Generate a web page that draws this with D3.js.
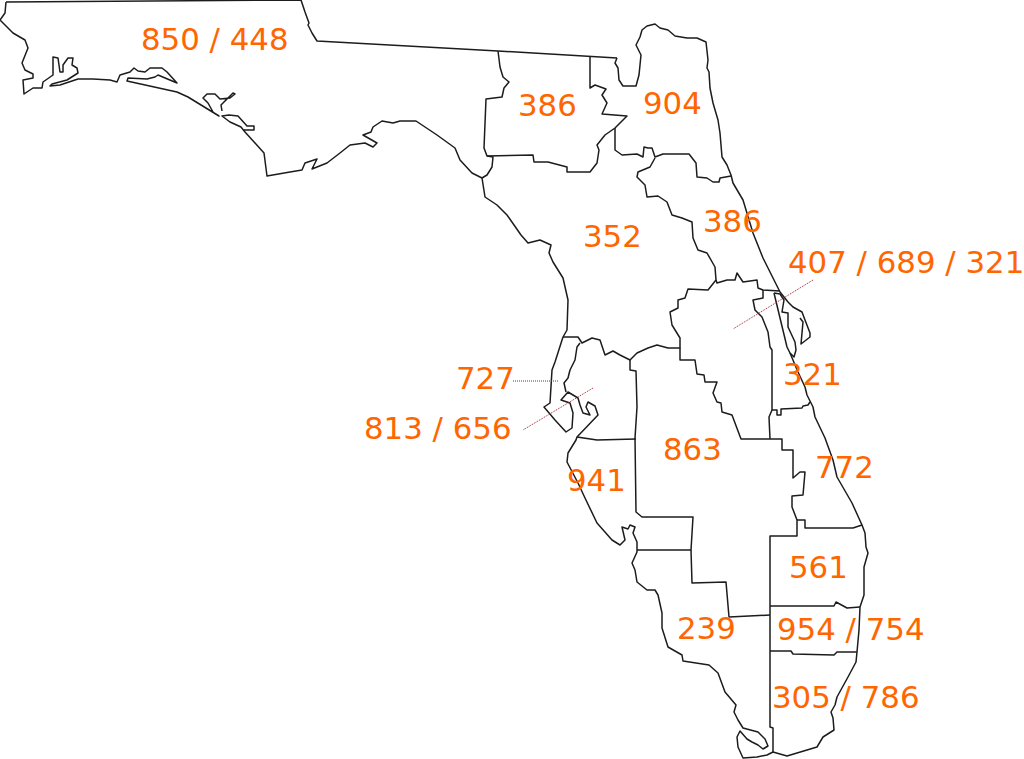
<!DOCTYPE html>
<html>
<head>
<meta charset="utf-8">
<script src="https://cdn.jsdelivr.net/npm/d3@7"></script>
<style>
html, body { margin: 0; padding: 0; background: #fff; }
svg { display: block; }
.border { fill: none; stroke: #1c1c1c; stroke-width: 1.5; stroke-linejoin: round; }
.leader { stroke: #a01c2c; stroke-width: 1; stroke-dasharray: 1 1; }
.code { fill: #ff6600; font-family: "DejaVu Sans"; font-size: 30.8px; }
</style>
</head>
<body>
<div id="map"></div>
<script>
// Area code labels
var codes = ["850 / 448", "386", "904", "386", "352", "407 / 689 / 321", "321", "727", "813 / 656", "863", "941", "772", "561", "239", "954 / 754", "305 / 786"];
var codeX = [141, 518, 643, 703, 583, 788, 783, 456, 364, 663, 567, 815, 789, 677, 777, 772];
var codeY = [50, 116, 114, 232, 247, 273, 385, 389, 439, 460, 491, 478, 578, 639, 640, 708];

// Dotted lines from a label to its small area
var leaders = [
    [[813, 280], [733, 329]],
    [[513, 381], [558, 381]],
    [[593, 388], [523, 430]]
];

// State outline in map units
var northLine = [[6, 2], [301, 0], [305, 12], [309, 23], [308, 25], [312, 33], [317, 41], [498, 51], [617, 58]];
var eastCoast = [[617, 58], [615, 63], [618, 68], [619, 80], [623, 86], [636, 86], [639, 75], [641, 55], [636, 45], [640, 37], [642, 30], [647, 26], [655, 24], [660, 28], [668, 30], [675, 36], [687, 38], [697, 38], [706, 42], [708, 60], [707, 68], [709, 72], [710, 88], [713, 103], [718, 120], [720, 133], [722, 157], [727, 165], [731, 175], [733, 183], [743, 200], [753, 233], [763, 258], [780, 292], [788, 302], [793, 307], [802, 312], [805, 320], [810, 333], [810, 337], [801, 344], [803, 322], [800, 318]];
var eastCoast2 = [[790, 353], [798, 372], [805, 387], [807, 395], [813, 407], [815, 417], [825, 438], [833, 460], [837, 477], [852, 503], [862, 525], [865, 533], [866, 547], [868, 553], [864, 567], [864, 595], [860, 607], [859, 630], [857, 652], [856, 662], [848, 677], [837, 697], [835, 705], [831, 712], [833, 718], [834, 730], [823, 737], [817, 747], [807, 750], [787, 756], [773, 752], [767, 755], [757, 757], [743, 758], [738, 747], [737, 737], [740, 731], [747, 739], [752, 742], [758, 745], [763, 749], [768, 746], [765, 739], [758, 732], [743, 728], [738, 720], [734, 712], [736, 705], [725, 692], [718, 673], [709, 665], [683, 661], [682, 655], [668, 647], [662, 628], [662, 613], [658, 595], [655, 590], [647, 590], [637, 582], [635, 570], [632, 563], [637, 552], [637, 542], [633, 533], [635, 527], [630, 525], [628, 529], [622, 527], [625, 540], [620, 545], [612, 540], [597, 523], [585, 498], [578, 483], [567, 462], [568, 453], [576, 440], [577, 437], [598, 415], [595, 406], [588, 402], [586, 407], [590, 415], [583, 413], [580, 405], [578, 398], [568, 392], [561, 400], [570, 403], [573, 413], [572, 428], [566, 432], [555, 420], [544, 407], [550, 403], [552, 370], [555, 362], [563, 337], [567, 330], [568, 300], [563, 278], [553, 262], [549, 253], [551, 245], [540, 240], [528, 243], [521, 235], [507, 215], [497, 205], [485, 197], [482, 178], [472, 173], [460, 160], [455, 148], [437, 135], [416, 121], [400, 121], [393, 123], [382, 121], [373, 127], [371, 132], [363, 135], [377, 143], [373, 147], [365, 143], [350, 145], [340, 153], [327, 163], [312, 169], [317, 159], [305, 163], [302, 170], [290, 172], [267, 176], [264, 153], [245, 132], [241, 127], [230, 122], [222, 116], [229, 115], [238, 116], [247, 126], [254, 126], [254, 130], [244, 130]];
var panhandleBay = [[222, 111], [221, 105], [233, 93], [235, 94], [230, 98], [220, 99], [215, 94], [207, 94], [203, 98], [208, 103], [213, 112], [219, 116], [188, 97], [177, 92], [127, 81], [128, 78], [147, 79], [155, 77], [158, 75], [177, 83], [167, 72], [162, 68], [150, 68], [145, 72], [138, 71], [134, 68], [130, 72], [120, 75], [117, 82], [110, 80], [93, 79], [78, 79], [60, 85], [50, 86], [52, 84], [67, 80], [78, 73], [77, 68], [72, 65], [73, 58], [68, 58], [63, 65], [63, 72], [60, 72], [58, 58], [53, 57], [53, 75], [43, 82], [42, 88], [33, 88], [24, 94], [23, 80], [33, 78], [33, 74], [25, 70], [22, 63], [28, 48], [25, 40], [13, 33], [0, 20], [5, 13], [6, 2]];
var merrittIsland = [[774, 293], [787, 347], [790, 353], [794, 357], [796, 350], [795, 342], [788, 327], [788, 313], [782, 312], [784, 300], [780, 294], [774, 293]];

// Borders between the area codes
var border850 = [[498, 51], [500, 67], [503, 77], [509, 82], [504, 88], [502, 97], [486, 99], [484, 148], [487, 156], [493, 157], [492, 167], [487, 175], [482, 178]];
var border386 = [[487, 156], [533, 155], [534, 162], [548, 162], [567, 167], [567, 172], [577, 172], [590, 172], [597, 163], [599, 150], [597, 145], [605, 135], [615, 128], [627, 116], [602, 114], [607, 103], [602, 95], [606, 89], [595, 85], [590, 88], [590, 57]];
var border904 = [[615, 128], [615, 150], [622, 155], [637, 154], [643, 157], [644, 147], [648, 148], [652, 148], [655, 157], [663, 154], [689, 154], [696, 163], [697, 177], [707, 178], [713, 182], [719, 182], [720, 178], [731, 176]];
var border352 = [[655, 158], [650, 167], [638, 172], [637, 177], [645, 185], [647, 197], [658, 196], [667, 202], [672, 215], [682, 218], [692, 222], [693, 238], [698, 250], [707, 253], [715, 267], [716, 280], [708, 290], [688, 289], [685, 298], [678, 300], [678, 308], [670, 312], [672, 325], [680, 338], [680, 348], [668, 348], [657, 345], [648, 348], [637, 353], [630, 360], [620, 355], [613, 351], [605, 355], [600, 340], [592, 338], [582, 343], [578, 337], [563, 337]];
var border727 = [[580, 343], [577, 347], [575, 360], [570, 370], [568, 378], [564, 383], [566, 392]];
var border863 = [[630, 360], [630, 370], [636, 371], [637, 407], [635, 438], [636, 512], [642, 517], [693, 517], [691, 550], [637, 550]];
var border941 = [[577, 437], [597, 440], [636, 439]];
var border407 = [[680, 348], [680, 360], [695, 360], [697, 374], [704, 375], [705, 382], [717, 382], [713, 393], [717, 402], [721, 403], [722, 412], [732, 415], [741, 439], [782, 439], [782, 450], [793, 450], [793, 478], [800, 472], [805, 472], [803, 495], [792, 496], [792, 507], [797, 520], [797, 536], [770, 536], [770, 727], [773, 728], [773, 752]];
var border772 = [[797, 520], [805, 520], [805, 528], [853, 528], [862, 525]];
var border321 = [[716, 280], [717, 283], [727, 280], [735, 280], [737, 273], [743, 282], [757, 280], [758, 288], [763, 290], [780, 291]];
var border321b = [[763, 290], [763, 298], [753, 300], [755, 310], [762, 317], [768, 332], [770, 347], [772, 350], [772, 410], [769, 417], [770, 439]];
var border321c = [[772, 410], [777, 410], [777, 415], [781, 415], [781, 409], [802, 408], [803, 406], [808, 405], [810, 402]];
var border954 = [[770, 606], [834, 606], [836, 602], [847, 608], [860, 607]];
var border305 = [[770, 651], [791, 651], [793, 654], [834, 655], [837, 652], [857, 652]];
var border239 = [[770, 615], [729, 617], [726, 582], [692, 583], [691, 550]];

var canvasWidth = 1024;
var canvasHeight = 759;

var x = d3.scaleLinear().domain([0, 1024]).range([0, canvasWidth]);
var y = d3.scaleLinear().domain([0, 759]).range([0, canvasHeight]);

var svg = d3.select("#map")
    .append("svg")
    .attr("width", canvasWidth)
    .attr("height", canvasHeight);

var line = d3.line()
    .x(function(d) { return x(d[0]); })
    .y(function(d) { return y(d[1]); });

var borders = [northLine, eastCoast, eastCoast2, panhandleBay, merrittIsland,
    border850, border386, border904, border352, border727, border863, border941,
    border407, border772, border321, border321b, border321c, border954, border305, border239];

svg.selectAll(".border")
    .data(borders)
    .enter()
    .append("path")
    .attr("class", "border")
    .attr("d", line);

svg.selectAll(".leader")
    .data(leaders)
    .enter()
    .append("line")
    .attr("class", "leader")
    .attr("x1", function(d) { return x(d[0][0]); })
    .attr("y1", function(d) { return y(d[0][1]); })
    .attr("x2", function(d) { return x(d[1][0]); })
    .attr("y2", function(d) { return y(d[1][1]); });

svg.selectAll(".code")
    .data(codes)
    .enter()
    .append("text")
    .attr("class", "code")
    .attr("x", function(d, i) { return x(codeX[i]); })
    .attr("y", function(d, i) { return y(codeY[i]); })
    .text(function(d) { return d; });
</script>
</body>
</html>
